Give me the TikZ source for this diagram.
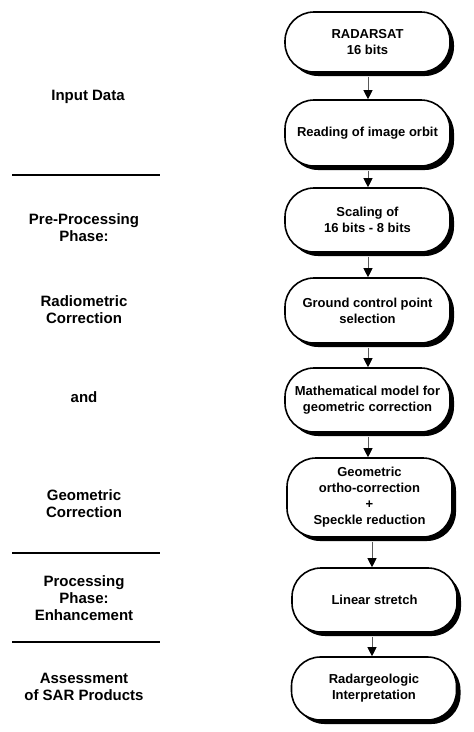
\documentclass[tikz,border=0pt]{standalone}
\usepackage{fontspec}
\setmainfont{Liberation Sans}
\usetikzlibrary{arrows.meta,shadows}
\begin{document}
\begin{tikzpicture}[x=1pt,y=-1pt,
  proc/.style={draw=black, line width=1.6pt, fill=white, rounded corners=29pt,
    minimum width=165pt, align=center, font=\fontsize{13}{16}\selectfont\bfseries,
    drop shadow={shadow xshift=4pt, shadow yshift=-4pt, fill=black, opacity=1}},
  lbl/.style={align=center, font=\fontsize{15}{17}\selectfont\bfseries},
  sep/.style={line width=2pt},
  flow/.style={draw=gray!70!black, line width=0.7pt, -{Triangle[width=9pt,length=9pt,fill=black,color=black]}}]
\useasboundingbox (0,0) rectangle (474,732);
% boxes
\node[proc, minimum height=60pt] (b1) at (367.5,42) {RADARSAT\\16 bits};
\node[proc, minimum height=66pt] (b2) at (367.5,133) {Reading of image orbit};
\node[proc, minimum height=64pt] (b3) at (367.5,220) {Scaling of\\16 bits - 8 bits};
\node[proc, minimum height=65pt] (b4) at (367.5,310.5) {Ground control point\\selection};
\node[proc, minimum height=64pt] (b5) at (367.5,400) {Mathematical model for\\geometric correction};
\node[proc, minimum height=79pt] (b6) at (369.5,497.5) {Geometric\\ortho-correction\\+\\Speckle reduction};
\node[proc, minimum height=64pt] (b7) at (374.5,600) {Linear stretch};
\node[proc, minimum height=63pt] (b8) at (374,688.5) {Radargeologic\\Interpretation};
% arrows
\coordinate (ax1) at (368,0);
\coordinate (ax2) at (372,0);
\draw[flow] (b1.south -| ax1) ++(0,4) -- (b2.north -| ax1);
\draw[flow] (b2.south -| ax1) ++(0,4) -- (b3.north -| ax1);
\draw[flow] (b3.south -| ax1) ++(0,4) -- (b4.north -| ax1);
\draw[flow] (b4.south -| ax1) ++(0,4) -- (b5.north -| ax1);
\draw[flow] (b5.south -| ax1) ++(0,4) -- (b6.north -| ax1);
\draw[flow] (b6.south -| ax2) ++(0,4) -- (b7.north -| ax2);
\draw[flow] (b7.south -| ax2) ++(0,4) -- (b8.north -| ax2);
% left labels
\node[lbl] (l1) at (88,97) {Input Data};
\node[lbl] (l2) at (84,228) {Pre-Processing\\Phase:};
\node[lbl] (l3) at (84,310) {Radiometric\\Correction};
\node[lbl] (l4) at (84,397) {and};
\node[lbl] (l5) at (84,504) {Geometric\\Correction};
\node[lbl] (l6) at (84,598) {Processing\\Phase:\\Enhancement};
\node[lbl] (l7) at (84,687) {Assessment\\of SAR Products};
% separators
\coordinate (s1a) at (12,175); \coordinate (s1b) at (160,175);
\coordinate (s2a) at (12,553); \coordinate (s2b) at (160,553);
\coordinate (s3a) at (12,642); \coordinate (s3b) at (160,642);
\draw[sep] (s1a) -- (s1b);
\draw[sep] (s2a) -- (s2b);
\draw[sep] (s3a) -- (s3b);
\end{tikzpicture}
\end{document}
